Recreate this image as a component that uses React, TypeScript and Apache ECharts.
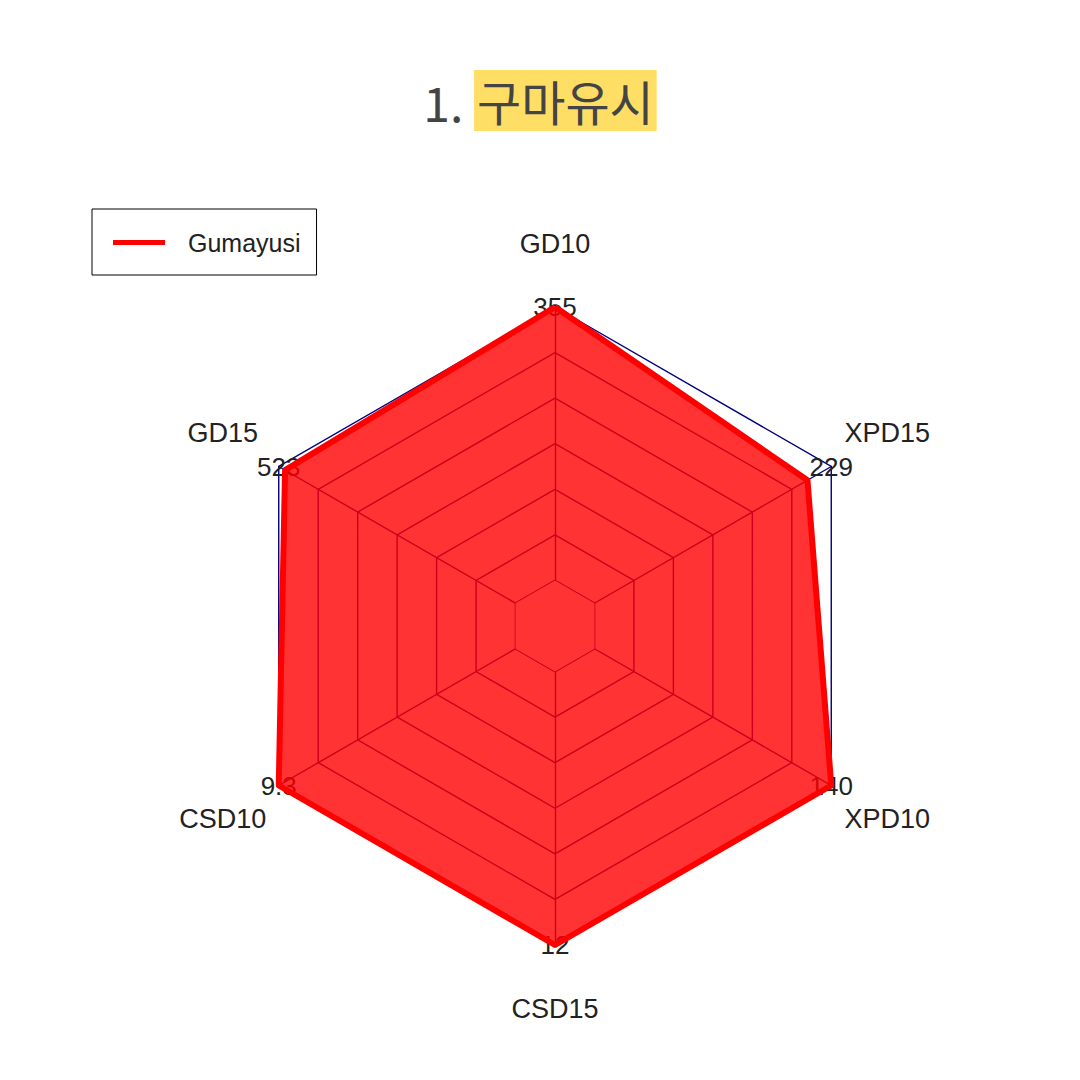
import { useEffect, useRef } from 'react';
import * as echarts from 'echarts';

// counter-clockwise from the top, as ECharts lays out radar indicators
const indicatorNames = ['GD10', 'GD15', 'CSD10', 'CSD15', 'XPD10', 'XPD15'];
const indicatorMax = [355, 523, 9.3, 12, 140, 229];
const indicatorZero = [0, 0, 0, 0, 0, 0];
const playerName = 'Gumayusi';
const playerValues = [355, 509, 9.3, 12, 140, 206];

// which label style each axis name uses (top / bottom / upper side / lower side)
const namePlacement: Record<string, string> = {
  GD10: 'top',
  CSD15: 'bottom',
  GD15: 'upper',
  XPD15: 'upper',
  CSD10: 'lower',
  XPD10: 'lower',
};

const nameFont = { fontFamily: 'Liberation Sans', fontSize: 27, color: '#222' };

export default function App() {
  const chartRef = useRef<HTMLDivElement | null>(null);

  useEffect(() => {
    if (!chartRef.current) return;
    document.body.style.margin = '0';

    const chart = echarts.init(chartRef.current, undefined, { renderer: 'svg' });

    chart.setOption({
      animation: false,
      backgroundColor: '#fff',
      title: {
        text: '1. {hl|구마유시}',
        left: 'center',
        top: 65,
        textStyle: {
          fontFamily: 'Noto Sans CJK KR',
          fontSize: 48,
          fontWeight: 'normal',
          color: '#444',
          rich: {
            hl: {
              fontFamily: 'Noto Sans CJK KR',
              fontSize: 48,
              color: '#444',
              backgroundColor: '#FFDE66',
              padding: [6, 3, 7, 3],
            },
          },
        },
      },
      legend: {
        data: [playerName],
        left: 92,
        top: 209,
        orient: 'vertical',
        borderColor: '#000',
        borderWidth: 1,
        padding: [21, 16, 20, 21],
        icon: 'rect',
        itemWidth: 52,
        itemHeight: 5,
        textStyle: {
          fontFamily: 'Liberation Sans',
          fontSize: 25,
          color: '#222',
          padding: [0, 0, 0, 18],
        },
      },
      radar: {
        center: [555, 626],
        radius: 319,
        startAngle: 90,
        splitNumber: 7,
        shape: 'polygon',
        indicator: indicatorNames.map((name, i) => ({
          name,
          max: indicatorMax[i],
          min: -indicatorMax[i] / 6,
        })),
        nameGap: 7,
        axisName: {
          ...nameFont,
          formatter: (name: string) => `{${namePlacement[name]}|${name}}`,
          rich: {
            top: { ...nameFont, padding: [0, 0, 43, 0] },
            bottom: { ...nameFont, padding: [43, 0, 0, 0] },
            upper: { ...nameFont, width: 100, align: 'center', padding: [0, 0, 60, 0] },
            lower: { ...nameFont, width: 100, align: 'center', padding: [60, 0, 0, 0] },
          },
        },
        axisLine: { lineStyle: { color: '#000080', width: 1.4 } },
        splitLine: { lineStyle: { color: '#000080', width: 1.4 } },
        splitArea: { show: false },
        axisLabel: { show: false },
        axisTick: { show: false },
      },
      series: [
        {
          type: 'radar',
          z: 1,
          silent: true,
          symbol: 'circle',
          symbolSize: 1,
          itemStyle: { color: 'rgba(0,0,0,0)' },
          lineStyle: { width: 0, color: 'rgba(0,0,0,0)' },
          label: {
            show: true,
            position: 'inside',
            fontFamily: 'Liberation Sans',
            fontSize: 26,
            color: '#222',
          },
          data: [{ name: 'max', value: indicatorMax }],
        },
        {
          // inner gap of the web: the spokes start at the first ring
          type: 'radar',
          z: 1.5,
          silent: true,
          symbol: 'none',
          lineStyle: { width: 1.4, color: '#000080' },
          areaStyle: { color: '#fff', opacity: 1 },
          data: [{ name: 'zero', value: indicatorZero }],
        },
        {
          type: 'radar',
          name: playerName,
          z: 2,
          symbol: 'none',
          itemStyle: { color: '#ff0000' },
          lineStyle: { color: '#ff0000', width: 6 },
          areaStyle: { color: 'rgba(255,0,0,0.8)', opacity: 1 },
          data: [{ name: playerName, value: playerValues }],
        },
      ],
    });

    return () => {
      chart.dispose();
    };
  }, []);

  return <div ref={chartRef} style={{ width: 1080, height: 1080 }} />;
}
